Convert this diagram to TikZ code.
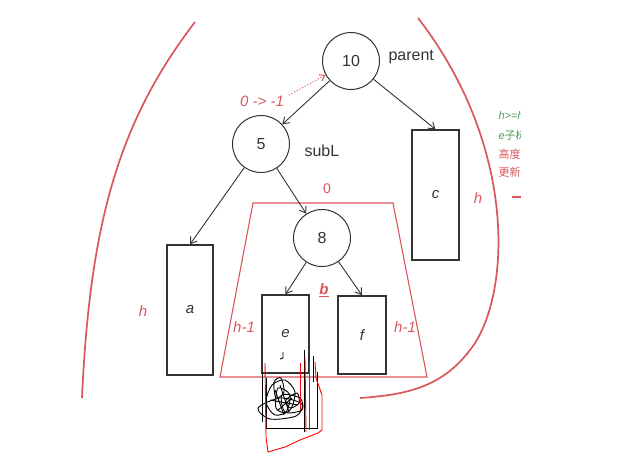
\documentclass[tikz,border=0pt]{standalone}
\usepackage{fontspec}
\setmainfont{Liberation Sans}
\newfontfamily\cjk{Noto Sans CJK SC}
\usetikzlibrary{arrows.meta}
\definecolor{myred}{HTML}{D9575A}
\definecolor{mygreen}{HTML}{4E9A5C}
\definecolor{ink}{HTML}{333333}
\begin{document}
\begin{tikzpicture}[x=1pt,y=-1pt,
  every node/.style={font=\fontsize{16}{19}\selectfont, text=ink},
  circ/.style={circle, draw=ink, line width=1pt, minimum size=57pt, inner sep=0pt},
  box/.style={rectangle, draw=ink, line width=1.4pt, inner sep=0pt, font=\fontsize{15}{18}\selectfont\itshape},
  arr/.style={draw=ink, line width=0.9pt, -{Straight Barb[length=6pt,width=8pt]}},
  redlab/.style={text=myred, font=\fontsize{15}{18}\selectfont\itshape},
  curve/.style={draw=myred, line width=1.7pt},
  scr/.style={line width=0.9pt}
]
\useasboundingbox (0,0) rectangle (617,475);
% big red curves
\draw[curve] (195,22) .. controls (120,120) and (90,220) .. (82,398);
\draw[curve] (418,18) .. controls (520,150) and (510,300) .. (470,350)
  .. controls (440,390) and (400,395) .. (360,398);
% nodes
\node[circ] (n10) at (351,61) {10};
\node[anchor=west] (par) at (385,57) {parent};
\node[circ] (n5) at (261,144) {5};
\node[anchor=west] (subl) at (301,151) {subL};
\node[circ] (n8) at (322,238) {8};
\node[box, minimum width=46pt, minimum height=130pt] (a) at (190,310) {a};
\node[box, minimum width=47pt, minimum height=130pt] (c) at (435.5,195) {c};
\node[box, minimum width=47pt, minimum height=78pt] (e) at (285.5,334) {e};
\node[box, minimum width=48pt, minimum height=78pt] (f) at (362,335) {f};
% trapezoid
\coordinate (tl) at (253,203);
\coordinate (tr) at (393,203);
\coordinate (br) at (427,377);
\coordinate (bl) at (220,377);
\draw[myred, line width=1.1pt] (tl) -- (tr) -- (br) -- (bl) -- cycle;
% arrows
\draw[arr] (n10) -- (n5);
\draw[arr] (n10) -- (c.north);
\draw[arr] (n5) -- (a.north);
\draw[arr] (n5) -- (n8);
\draw[arr] (n8) -- (e.north);
\draw[arr] (n8) -- (f.north);
% red labels
\node[redlab] (chg) at (262,101) {0 -> -1};
\coordinate (chgend) at (289,95);
\draw[myred, dotted, line width=1pt, -{Straight Barb[length=5pt,width=7pt]}] (chgend) -- (n10);
\node[text=myred, font=\fontsize{14}{16}\selectfont] (zero) at (327,189) {0};
\node[redlab, font=\fontsize{15}{18}\selectfont\bfseries\itshape] (b) at (324,290) {\underline{b}};
\node[redlab] (hml) at (244,327) {h-1};
\node[redlab] (hmr) at (405,327) {h-1};
\node[redlab] (ha) at (143,311) {h};
\node[redlab] (hc) at (478,198) {h};
\coordinate (d1) at (512,197);
\coordinate (d2) at (521,197);
\draw[myred, line width=1.4pt] (d1) -- (d2);
% clipped side notes
\begin{scope}
\clip (485,100) rectangle (520,185);
\node[anchor=west, text=mygreen, font=\fontsize{11}{13}\selectfont\itshape] (t1) at (495,116) {h>=h};
\node[anchor=west, text=mygreen, font=\fontsize{11}{13}\selectfont\itshape] (t2) at (495,135) {e\cjk 子树};
\node[anchor=west, text=myred, font=\fontsize{11}{13}\selectfont\itshape] (t3) at (495,154) {\cjk 高度};
\node[anchor=west, text=myred, font=\fontsize{11}{13}\selectfont\itshape] (t4) at (495,172) {\cjk 更新};
\end{scope}
% scribble
\draw[scr, black] (283,352) -- (283,358) -- (280,359);
\draw[scr, black] (262,373) -- (262,422);
\draw[scr, black] (266,378) -- (266,428) -- (317,428) -- (317,372);
\draw[scr, black] (304,350) -- (304,432);
\draw[scr, black] (313,356) -- (313,382);
\draw[scr, black] plot[smooth cycle] coordinates {(272,385) (285,380) (295,392) (290,410) (275,415) (266,402)};
\draw[scr, black] plot[smooth cycle] coordinates {(258,408) (280,398) (302,404) (296,416) (270,419)};
\draw[scr, black] plot[smooth cycle] coordinates {(278,388) (290,395) (286,412) (276,408)};
\draw[scr, black] plot[smooth cycle] coordinates {(282,395) (300,398) (302,410) (285,412)};
\draw[scr, black] plot[smooth cycle] coordinates {(274,382) (281,378) (284,392) (276,398)};
\draw[scr, black] plot[smooth cycle] coordinates {(286,400) (297,393) (299,403) (290,408)};
\draw[scr, black] (275,390) -- (284,415) (280,385) -- (289,412) (270,400) -- (298,405) (278,410) -- (292,398);
\draw[scr, red] (265,363) -- (266,437) -- (268,452) -- (285,447) -- (300,440) -- (318,433) -- (322,430) -- (322,395) -- (316,378) -- (315,362);
\draw[scr, red] (305,358) -- (306,432);
\draw[scr, red] (309,362) -- (309,430);
\draw[scr, red] (300,363) -- (300,410);
\end{tikzpicture}
\end{document}
